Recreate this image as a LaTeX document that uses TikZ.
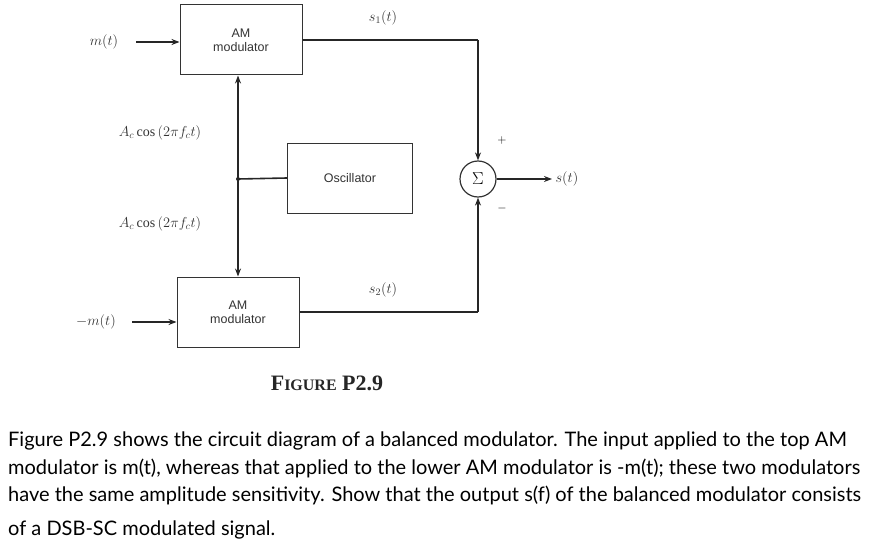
\documentclass[tikz,border=0pt]{standalone}
\usepackage{fontspec}
\setmainfont{Liberation Serif}
\newfontfamily\bodyfont{Lato}
\newfontfamily\diafont{Liberation Sans}
\usetikzlibrary{arrows.meta}
\begin{document}
\begin{tikzpicture}[x=1pt,y=-1pt,
  blk/.style={draw=black!80,line width=1pt,minimum width=122pt,minimum height=70pt,align=center,font=\diafont\fontsize{12.5}{14}\selectfont,text=black!80},
  wire/.style={draw=black!85,line width=1.6pt},
  arr/.style={wire,-{Stealth[length=8pt,width=6pt]}},
  lbl/.style={font=\fontsize{14}{15}\selectfont\itshape,text=black!80},
  para/.style={anchor=west,font=\bodyfont\fontsize{20}{22}\selectfont,inner sep=0pt}]
\useasboundingbox (0,0) rectangle (871,543);
\node[blk] (top) at (241,40) {AM\\modulator};
\node[blk] (bot) at (238,312) {AM\\modulator};
\node[blk,minimum width=125pt] (osc) at (350,178) {Oscillator};
\node[draw=black!80,line width=1.2pt,circle,minimum size=36pt,inner sep=0pt,font=\fontsize{17}{17}\selectfont] (sum) at (478,179) {$\Sigma$};
\coordinate (j) at (238,179);
\fill[black!85] (j) circle (2pt);
\node[lbl] (min) at (104,42) {$m(t)$};
\node[lbl] (mmin) at (96,322) {$-m(t)$};
\coordinate (a1) at (136,42);
\coordinate (a2) at (132,322);
\draw[arr] (a1) -- (top.west |- a1);
\draw[arr] (a2) -- (bot.west |- a2);
\draw[wire] (osc.west) -- (j);
\draw[arr] (j) -- (j |- top.south);
\draw[arr] (j) -- (j |- bot.north);
\node[lbl] (c1) at (160,133) {$A_c\cos\,(2\pi f_c t)$};
\node[lbl] (c2) at (160,224) {$A_c\cos\,(2\pi f_c t)$};
\coordinate (t1) at (sum.center |- top.east);
\coordinate (t2) at (sum.center |- bot.east);
\draw[wire] (top.east) -- (t1);
\draw[arr] (t1) -- (sum.north);
\draw[wire] (bot.east) -- (t2);
\draw[arr] (t2) -- (sum.south);
\node[lbl] (s1) at (383,18) {$s_1(t)$};
\node[lbl] (s2) at (383,290) {$s_2(t)$};
\node[font=\fontsize{13}{13}\selectfont] (plus) at (502,140) {$+$};
\node[font=\fontsize{13}{13}\selectfont] (minus) at (502,208) {$-$};
\node[lbl,anchor=west] (st) at (552,179) {$s(t)$};
\draw[arr] (sum.east) -- (st.west);
\node[font=\bfseries\fontsize{22}{24}\selectfont,text=black!85] (fig) at (327,383) {F{\fontsize{16}{18}\selectfont IGURE} P2.9};
\node[para] (l1) at (8,441) {Figure P2.9 shows the circuit diagram of a balanced modulator. The input applied to the top AM};
\node[para] (l2) at (8,468) {modulator is m(t), whereas that applied to the lower AM modulator is -m(t); these two modulators};
\node[para] (l3) at (8,495) {have the same amplitude sensitivity. Show that the output s(f) of the balanced modulator consists};
\node[para] (l4) at (8,530) {of a DSB-SC modulated signal.};
\end{tikzpicture}
\end{document}
